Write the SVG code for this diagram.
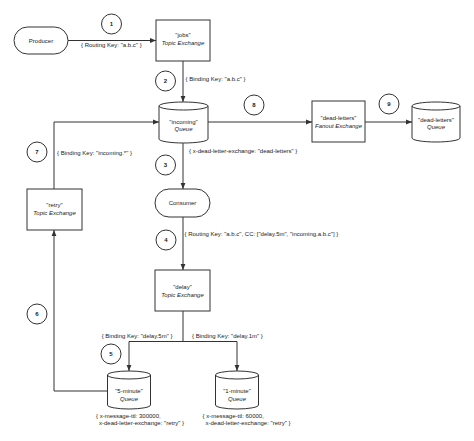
<svg xmlns="http://www.w3.org/2000/svg" width="474" height="441" viewBox="0 0 474 441">
<defs>
<marker id="arr" viewBox="0 0 10 10" refX="10" refY="5" markerWidth="6" markerHeight="6" markerUnits="userSpaceOnUse" orient="auto"><path d="M0,1 L10,5 L0,9 z" fill="#333"/></marker>
</defs>
<style>
text{font-family:"Liberation Sans",Arial,sans-serif;font-size:6px;fill:#222}
.c{text-anchor:middle}
.i{font-style:italic}
.n{font-weight:bold;text-anchor:middle}
.s{fill:#fff;stroke:#333;stroke-width:1}
.f{fill:none;stroke:#333;stroke-width:1}
.l{fill:none;stroke:#333;stroke-width:1}
</style>
<rect width="474" height="441" fill="#fff"/>
<g id="connectors">
<line class="l" x1="68" y1="40.5" x2="156" y2="40.5" marker-end="url(#arr)"/>
<line class="l" x1="183" y1="61" x2="183" y2="102" marker-end="url(#arr)"/>
<line class="l" x1="208" y1="122" x2="312" y2="122" marker-end="url(#arr)"/>
<line class="l" x1="365" y1="122" x2="412" y2="122" marker-end="url(#arr)"/>
<line class="l" x1="183" y1="143" x2="183" y2="189" marker-end="url(#arr)"/>
<line class="l" x1="183" y1="217" x2="183" y2="270" marker-end="url(#arr)"/>
<polyline class="l" points="183,311 183,341.5"/>
<polyline class="l" points="183,341.5 129,341.5 129,371" marker-end="url(#arr)"/>
<polyline class="l" points="183,341.5 237,341.5 237,371" marker-end="url(#arr)"/>
<polyline class="l" points="107.5,391 54,391 54,230" marker-end="url(#arr)"/>
<polyline class="l" points="54,189 54,122 159,122" marker-end="url(#arr)"/>
<text x="81" y="47">{ Routing Key: "a.b.c" }</text>
<text x="185.5" y="80.5">{ Binding Key: "a.b.c" }</text>
<text x="189" y="153">{ x-dead-letter-exchange: "dead-letters" }</text>
<text x="57" y="155">{ Binding Key: "incoming.*" }</text>
<text x="184.5" y="236">{ Routing Key: "a.b.c", CC: ["delay.5m", "incoming.a.b.c"] }</text>
<text x="172.5" y="337.5" text-anchor="end">{ Binding Key: "delay.5m" }</text>
<text x="192" y="337.5">{ Binding Key: "delay.1m" }</text>
<text x="96" y="417.5">{ x-message-ttl: 300000,</text>
<text x="99" y="424.5">x-dead-letter-exchange: "retry" }</text>
<text x="202.5" y="417.5">{ x-message-ttl: 60000,</text>
<text x="205.5" y="424.5">x-dead-letter-exchange: "retry" }</text>
</g>
<g id="step1"><circle class="s" cx="111.5" cy="24" r="10"/><text class="n" x="111.5" y="26.2">1</text></g>
<g id="step2"><circle class="s" cx="165.5" cy="81" r="10"/><text class="n" x="165.5" y="83.2">2</text></g>
<g id="step3"><circle class="s" cx="165.5" cy="165" r="10"/><text class="n" x="165.5" y="167.2">3</text></g>
<g id="step4"><circle class="s" cx="166" cy="240" r="10"/><text class="n" x="166" y="242.2">4</text></g>
<g id="step5"><circle class="s" cx="111" cy="354" r="10"/><text class="n" x="111" y="356.2">5</text></g>
<g id="step6"><circle class="s" cx="37" cy="314" r="10"/><text class="n" x="37" y="316.2">6</text></g>
<g id="step7"><circle class="s" cx="37" cy="152" r="10"/><text class="n" x="37" y="154.2">7</text></g>
<g id="step8"><circle class="s" cx="254" cy="105" r="10"/><text class="n" x="254" y="107.2">8</text></g>
<g id="step9"><circle class="s" cx="389" cy="104" r="10"/><text class="n" x="389" y="106.2">9</text></g>
<g id="producer"><rect class="s" x="14" y="27" width="54" height="27" rx="13.5"/><text class="c" x="41" y="42.5">Producer</text></g>
<g id="jobs"><rect class="s" x="156" y="20" width="54" height="41"/><text class="c" x="183" y="37">"jobs"</text><text class="c i" x="183" y="45">Topic Exchange</text></g>
<g id="incoming"><path class="s" d="M159,106 A24.5,4 0 0 1 208,106 V139 A24.5,4 0 0 1 159,139 Z"/><path class="f" d="M159,106 A24.5,4 0 0 0 208,106"/><text class="c" x="183.5" y="124">"incoming"</text><text class="c i" x="183.5" y="131">Queue</text></g>
<g id="dead-letters-exchange"><rect class="s" x="312" y="101" width="53" height="41"/><text class="c" x="338.5" y="120">"dead-letters"</text><text class="c i" x="338.5" y="127.5">Fanout Exchange</text></g>
<g id="dead-letters-queue"><path class="s" d="M412,106 A24,4 0 0 1 460,106 V138 A24,4 0 0 1 412,138 Z"/><path class="f" d="M412,106 A24,4 0 0 0 460,106"/><text class="c" x="436" y="121.5">"dead-letters"</text><text class="c i" x="436" y="129">Queue</text></g>
<g id="consumer"><rect class="s" x="155" y="189" width="55" height="28" rx="14"/><text class="c" x="182.5" y="205">Consumer</text></g>
<g id="retry"><rect class="s" x="27" y="189" width="55" height="41"/><text class="c" x="54.5" y="207">"retry"</text><text class="c i" x="54.5" y="214.5">Topic Exchange</text></g>
<g id="delay"><rect class="s" x="155" y="270" width="55" height="41"/><text class="c" x="182.5" y="289">"delay"</text><text class="c i" x="182.5" y="296.5">Topic Exchange</text></g>
<g id="five-minute"><path class="s" d="M107.5,375 A21.5,4 0 0 1 150.5,375 V405 A21.5,4 0 0 1 107.5,405 Z"/><path class="f" d="M107.5,375 A21.5,4 0 0 0 150.5,375"/><text class="c" x="129" y="393">"5-minute"</text><text class="c i" x="129" y="401">Queue</text></g>
<g id="one-minute"><path class="s" d="M215.5,375 A21.5,4 0 0 1 258.5,375 V405 A21.5,4 0 0 1 215.5,405 Z"/><path class="f" d="M215.5,375 A21.5,4 0 0 0 258.5,375"/><text class="c" x="237" y="393">"1-minute"</text><text class="c i" x="237" y="401">Queue</text></g>
</svg>
